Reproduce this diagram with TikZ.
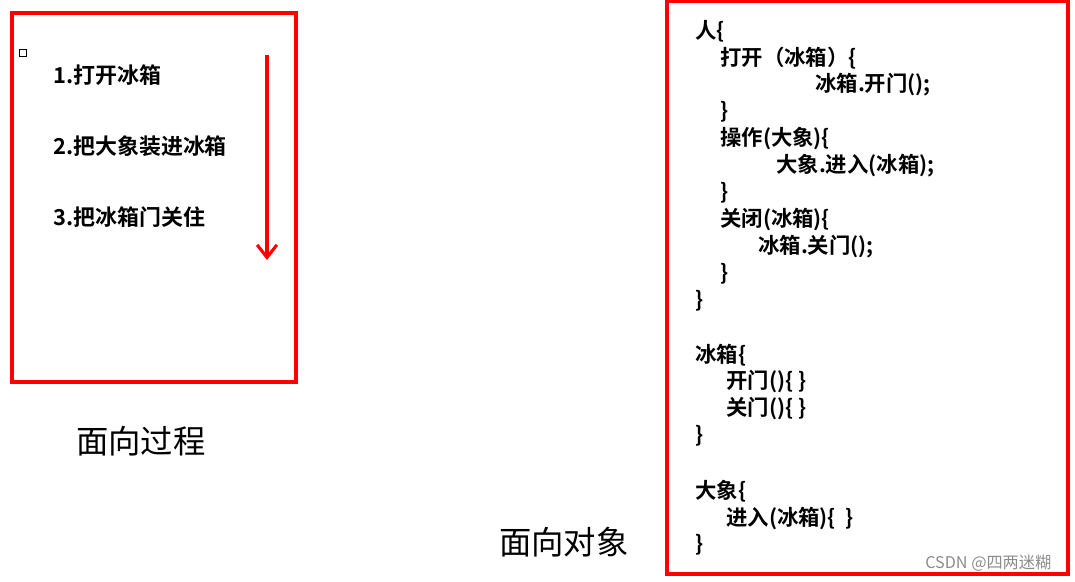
\documentclass[tikz,border=0pt]{standalone}
\usepackage{fontspec}
\newfontfamily\cjk{Noto Sans CJK SC}
\newfontfamily\cjkb{Noto Sans CJK SC Bold}
\usetikzlibrary{arrows.meta}
\tikzset{
	step text/.style={anchor=west, inner sep=0pt, font=\cjkb\fontsize{15.6}{18}\selectfont},
	code text/.style={anchor=west, inner sep=0pt, font=\cjkb\fontsize{15.2}{18}\selectfont},
	title text/.style={anchor=west, inner sep=0pt, font=\cjk\fontsize{23}{27}\selectfont},
	frame box/.style={draw=red, line width=2.6pt}
}

\begin{document}
\begin{tikzpicture}[x=0.025cm, y=-0.025cm]
			%%%%% START %%%%%
			
			\useasboundingbox (0, 0) rectangle (1075, 582);
			
			% left box
			\draw[frame box] (12, 13) rectangle (296, 382);
			\draw[line width=0.6pt] (19, 49) rectangle (26, 56);
			
			\node[step text] (step1) at (53, 75) {1.打开冰箱};
			\node[step text] (step2) at (53, 146) {2.把大象装进冰箱};
			\node[step text] (step3) at (53, 217) {3.把冰箱门关住};
			
			\coordinate (flowtop) at (267, 55);
			\coordinate (flowend) at (267, 260);
			\draw[red, line width=2.2pt, -{Straight Barb[length=9pt, width=14pt, line width=2.2pt]}] (flowtop) -- (flowend);
			
			\node[title text] (proc) at (76, 441) {面向过程};
			
			% right box
			\draw[frame box] (667, 1) rectangle (1068, 574);
			
			\node[code text] (ren) at (695, 31) {人\{};
			\node[code text] (open) at (720, 58) {打开（冰箱）\{};
			\node[code text] (openbody) at (815, 85) {冰箱.开门();};
			\node[code text] (openend) at (720, 112) {\}};
			\node[code text] (op) at (720, 139) {操作(大象)\{};
			\node[code text] (opbody) at (776, 166) {大象.进入(冰箱);};
			\node[code text] (opend) at (720, 193) {\}};
			\node[code text] (close) at (720, 220) {关闭(冰箱)\{};
			\node[code text] (closebody) at (758, 247) {冰箱.关门();};
			\node[code text] (closeend) at (720, 274) {\}};
			\node[code text] (renend) at (695, 301) {\}};
			
			\node[code text] (fridge) at (695, 355) {冰箱\{};
			\node[code text] (fridgeopen) at (726, 382) {开门()\{ \}};
			\node[code text] (fridgeclose) at (726, 409) {关门()\{ \}};
			\node[code text] (fridgeend) at (695, 436) {\}};
			
			\node[code text] (elephant) at (695, 491) {大象\{};
			\node[code text] (elephantin) at (726, 518) {进入(冰箱)\{\ \ \}};
			\node[code text] (elephantend) at (695, 545) {\}};
			
			\node[title text] (obj) at (499, 542) {面向对象};
			
			\node[anchor=west, inner sep=0pt, text=black!45, font=\cjk\fontsize{11.5}{13}\selectfont] (mark) at (925, 563) {CSDN @四两迷糊};
			
			%%%%% END %%%%%
\end{tikzpicture}
\end{document}
